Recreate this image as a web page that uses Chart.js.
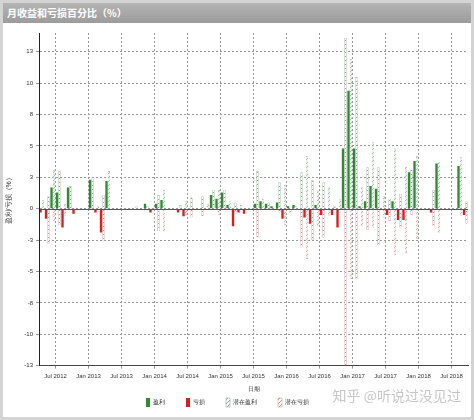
<!DOCTYPE html>
<html><head><meta charset="utf-8">
<script src="https://cdn.jsdelivr.net/npm/chart.js@4/dist/chart.umd.min.js"></script>
<style>
html,body{margin:0;padding:0;background:#d4d4d4;width:474px;height:420px;overflow:hidden;font-family:"Noto Sans CJK SC","Noto Sans",sans-serif}
#frame{position:absolute;left:3px;top:3px;width:468px;height:414px;background:#fff}
#title{position:absolute;left:0;top:0;width:468px;height:20px;background:linear-gradient(#b4b4b4,#9c9c9c);color:#fff;font-size:10px;font-weight:bold;line-height:20px;padding-left:4px;box-sizing:border-box}
#wrap{position:absolute;left:0;top:20px;width:468px;height:394px}
#wm{position:absolute;right:10px;bottom:12px;color:rgba(160,160,160,0.6);font-size:14px}
</style></head><body>
<div id="frame"><div id="title">月收益和亏损百分比（%）</div>
<div id="wrap"><canvas id="c" width="468" height="394" style="width:468px;height:394px"></canvas></div>
<div id="wm">知乎 @听说过没见过</div></div>
<script>
// months Apr 2012 .. Sep 2018
const monthNames=["Jan","Feb","Mar","Apr","May","Jun","Jul","Aug","Sep","Oct","Nov","Dec"];
const months=[];for(let y=2012,m=3;months.length<78;){months.push(monthNames[m]+" "+y);m++;if(m>11){m=0;y++;}}
const profit=[0,0,1.7,1.3,0,1.7,0,0,0,2.3,0,0,2.2,0,0,0,0,0,0,0.4,0,0.4,0.7,0,0,0,0,0,0,0,0,1.1,0.8,1.3,0.3,0,0,0,0,0.4,0.6,0.4,0.2,0.5,0,0.2,0.3,0,0,0,0.3,0,0,0,0,4.8,9.4,4.8,0.2,0.6,1.8,1.6,0,0,0.6,0,0,2.9,3.8,0,0,0,3.6,0,0,0,3.4,0];
const loss=[-0.3,-0.8,0,0,-1.5,0,-0.4,0,0,0,-0.3,-1.9,0,0,0,0,0,-0.1,0,0,-0.3,0,0,0,0,-0.3,-0.6,0,0,0,0,0,0,0,0,-1.4,-0.3,-0.4,-0.1,0,0,0,0,0,-0.8,0,0,-0.1,-0.7,-1.2,0,-0.5,0,-0.5,-1.5,0,0,0,0,0,0,0,0,-0.5,0,-0.9,-0.9,0,0,-0.1,0,-0.3,0,0,0,0,0,-0.5];
const latentProfit=[0.7,1.0,3.1,3.0,0.4,1.8,0.1,0,0,2.4,0.2,1.1,3.0,0,0,0,0,0.2,0,0.2,0,1.1,1.5,0,0,0.3,0.6,0.9,0,1.0,0.4,1.5,1.5,1.5,0.6,0.5,0.3,0,0,3.0,0.8,0.5,0,2.1,1.9,0,0.2,2.9,4.2,2.3,1.4,2.1,1.7,0.2,0.8,13.6,11.9,10.5,1.7,3.3,5.3,3.3,1.0,0.8,4.8,1.2,3.3,3.1,4.2,0,0,1.5,3.7,0,0,0,4.1,0.6];
const latentLoss=[0,-2.8,-1.0,-1.3,-0.6,0,0,0,0,0,0,-2.6,0,0,0,0,0,0,0,0,0,-1.8,-1.8,0,0,0,-0.5,-0.7,0,-0.6,0,0,-0.5,0,0,-0.4,0,0,0,-2.3,0,0,0,-0.3,-1.3,-0.3,0,-3.1,-4.0,-2.5,-1.4,-2.3,-0.6,0,0,-12.5,-5.6,-5.6,-1.4,-1.7,-1.5,-2.9,-0.7,-1.0,-3.7,-1.5,-3.5,-0.5,-2.4,0,0,-1.4,-1.9,0,0,0,-0.6,-1.2];
const seriesNames=["盈利","亏损","潜在盈利","潜在亏损"];

function hatch(color){const c=document.createElement('canvas');c.width=4;c.height=4;const g=c.getContext('2d');
g.fillStyle='#fff';g.fillRect(0,0,4,4);g.strokeStyle=color;g.lineWidth=0.8;g.beginPath();g.moveTo(0,4);g.lineTo(4,0);g.moveTo(-1,1);g.lineTo(1,-1);g.moveTo(3,5);g.lineTo(5,3);g.stroke();
return g.createPattern(c,'repeat');}
const cv=document.getElementById('c');
const isLab=l=>l&&(l.startsWith('Jan')||l.startsWith('Jul'));
const zeroLine={id:'zero',afterDatasetsDraw(ch){const y=Math.round(ch.scales.y.getPixelForValue(0))+0.5,a=ch.chartArea,x=ch.ctx;x.save();x.strokeStyle='#555';x.lineWidth=1;x.beginPath();x.moveTo(a.left,y);x.lineTo(a.right,y);x.stroke();x.restore();}};
new Chart(cv,{type:'bar',
data:{labels:months,datasets:[
{label:seriesNames[0],data:profit,backgroundColor:'#2e8b32',stack:'r',order:1},
{label:seriesNames[1],data:loss,backgroundColor:'#d81e1e',stack:'r',order:1},
{label:seriesNames[2],data:latentProfit,backgroundColor:hatch('#6a9a6a'),borderColor:'#9aaa9a',borderWidth:0.6,stack:'l',order:2},
{label:seriesNames[3],data:latentLoss,backgroundColor:hatch('#c07878'),borderColor:'#c8a0a0',borderWidth:0.6,stack:'l',order:2}]},
options:{responsive:false,animation:false,devicePixelRatio:1,
layout:{padding:{top:10,right:3,left:2,bottom:0}},
plugins:{legend:{position:'bottom',labels:{font:{size:6},boxWidth:4,boxHeight:9,padding:3,color:'#333',
  generateLabels:ch=>Chart.defaults.plugins.legend.labels.generateLabels(ch).map(l=>Object.assign(l,{text:l.text+'\u2003\u2003\u2003'}))}},tooltip:{enabled:false}},
datasets:{bar:{barPercentage:0.95,categoryPercentage:0.9}},
scales:{
x:{stacked:true,offset:true,
 grid:{offset:true,drawTicks:true,tickLength:3,color:c=>isLab(months[c.index])?'#999':'rgba(0,0,0,0)'},
 border:{dash:[2,2],color:'#444'},
 ticks:{autoSkip:false,maxRotation:0,font:{size:6},color:'#333',padding:4,labelOffset:-2.75,callback:(v,i)=>isLab(months[i])?months[i]:''},
 title:{display:true,text:'日期',font:{size:6},color:'#333',padding:{top:2,bottom:2}}},
y:{stacked:true,min:-12.5,max:14,
 afterBuildTicks:s=>{s.ticks=s.ticks.filter(t=>Math.abs(t.value/2.5-Math.round(t.value/2.5))<1e-6);},
 afterFit:s=>{s.width=34},
 ticks:{stepSize:2.5,font:{size:6},color:'#333',callback:v=>String(Math.round(v+(v<0?-0.001:0.001)))},
 grid:{color:'#999',tickLength:3},border:{dash:[2,2],color:'#222'},
 title:{display:true,text:'盈利/亏损（%）',font:{size:7},color:'#333',padding:0}}}},
plugins:[zeroLine,{id:'axis',afterDraw(ch){const a=ch.chartArea,x=ch.ctx;x.save();x.strokeStyle='#222';x.lineWidth=1;x.beginPath();x.moveTo(a.left+0.5,a.top);x.lineTo(a.left+0.5,a.bottom);x.stroke();x.restore();}}]
});
</script></body></html>
